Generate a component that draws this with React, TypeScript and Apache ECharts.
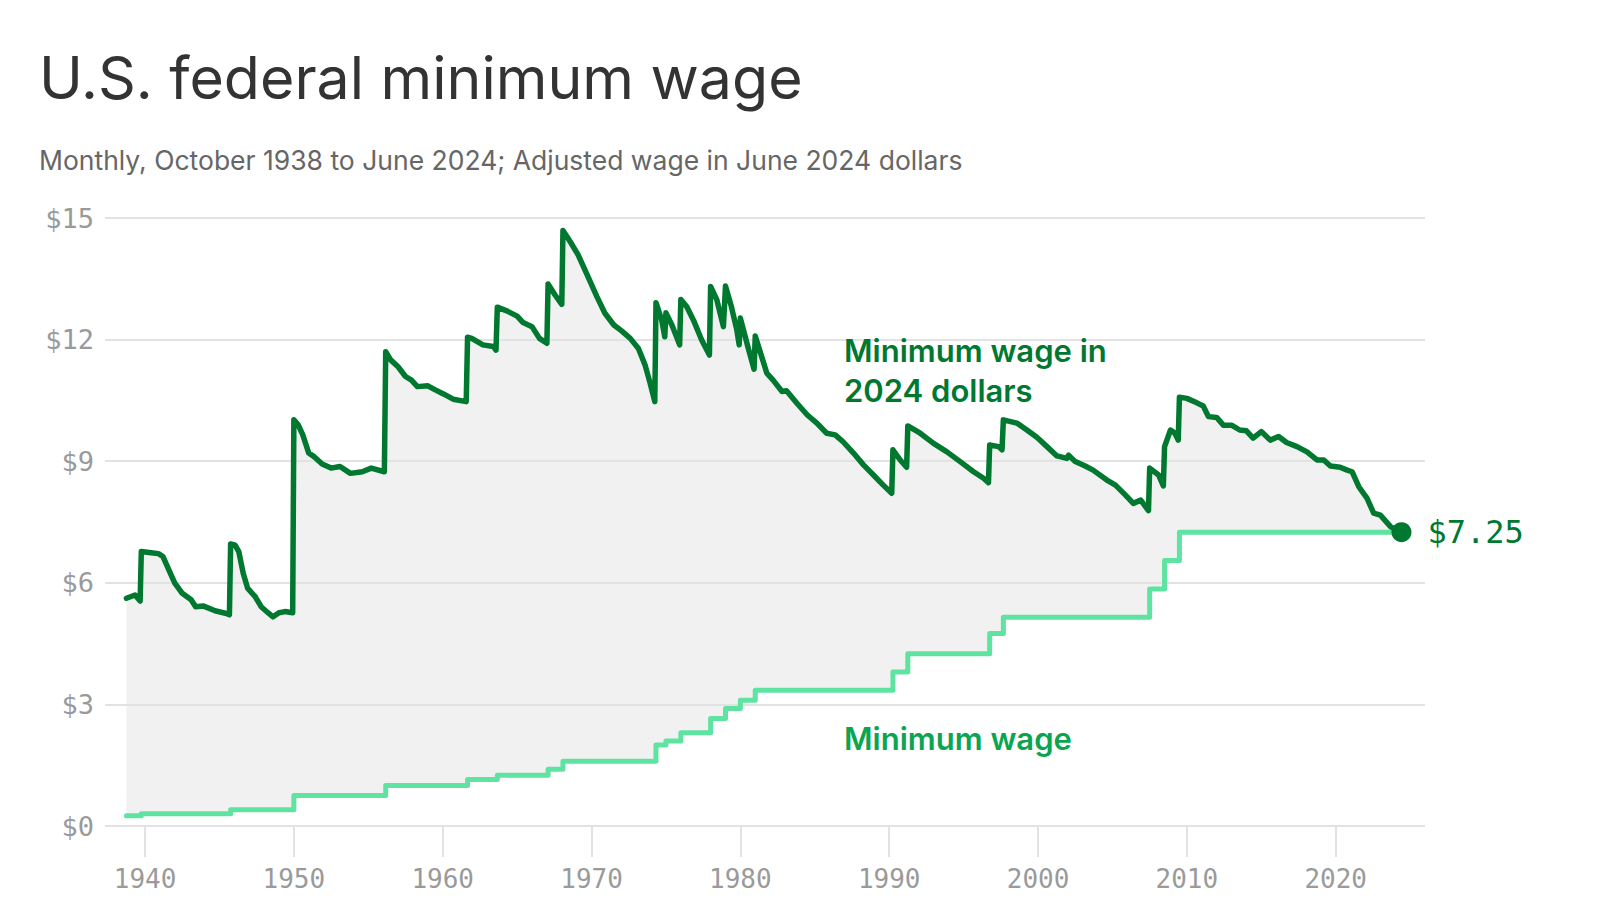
import React, { useEffect, useRef } from "react";
import * as echarts from "echarts";

const TITLE = "U.S. federal minimum wage";
const SUBTITLE = "Monthly, October 1938 to June 2024; Adjusted wage in June 2024 dollars";
const LABEL_REAL_1 = "Minimum wage in";
const LABEL_REAL_2 = "2024 dollars";
const LABEL_NOMINAL = "Minimum wage";

// Decade ticks on the x axis
const yearTicks = [1940, 1950, 1960, 1970, 1980, 1990, 2000, 2010, 2020];

// Nominal federal minimum wage: date it took effect (decimal year) and rate
const nominalDates = [
  1938.75, 1939.75, 1945.75, 1950.0, 1956.17, 1961.67, 1963.67, 1967.08, 1968.08,
  1974.33, 1975.0, 1976.0, 1978.0, 1979.0, 1980.0, 1981.0, 1990.25, 1991.25,
  1996.75, 1997.67, 2007.5, 2008.5, 2009.5, 2024.42,
];
const nominalRates = [
  0.25, 0.3, 0.4, 0.75, 1.0, 1.15, 1.25, 1.4, 1.6,
  2.0, 2.1, 2.3, 2.65, 2.9, 3.1, 3.35, 3.8, 4.25,
  4.75, 5.15, 5.85, 6.55, 7.25, 7.25,
];

// Minimum wage in June 2024 dollars
const realDates = [
  1938.75, 1939.33, 1939.67, 1939.75, 1940.4, 1940.9, 1941.2, 1941.6, 1942.0, 1942.5,
  1943.1, 1943.4, 1943.9, 1944.7, 1945.4, 1945.67, 1945.75, 1946.05, 1946.3, 1946.6,
  1946.9, 1947.4, 1947.8, 1948.3, 1948.6, 1949.0, 1949.4, 1949.92, 1950.0, 1950.3,
  1950.6, 1951.0, 1951.4, 1951.9, 1952.5, 1953.1, 1953.8, 1954.6, 1955.2, 1956.08,
  1956.17, 1956.5, 1957.0, 1957.5, 1957.9, 1958.3, 1959.0, 1959.5, 1960.05, 1960.7,
  1961.58, 1961.67, 1961.95, 1962.7, 1963.4, 1963.58, 1963.67, 1964.3, 1965.0, 1965.4,
  1966.0, 1966.5, 1967.0, 1967.08, 1967.55, 1968.0, 1968.08, 1968.56, 1969.1, 1969.7,
  1970.36, 1970.9, 1971.5, 1972.0, 1972.6, 1973.15, 1973.6, 1973.94, 1974.25, 1974.33,
  1974.72, 1974.92, 1975.0, 1975.4, 1975.92, 1976.0, 1976.4, 1976.85, 1977.4, 1977.92,
  1978.0, 1978.42, 1978.86, 1979.0, 1979.4, 1979.76, 1979.92, 1980.0, 1980.5, 1980.92,
  1981.0, 1981.5, 1981.78, 1982.2, 1982.8, 1983.1, 1983.8, 1984.5, 1985.14, 1985.8,
  1986.37, 1986.9, 1987.6, 1988.27, 1988.94, 1989.6, 1990.17, 1990.25, 1990.74, 1991.17,
  1991.25, 1992.08, 1992.98, 1993.88, 1994.77, 1995.67, 1996.34, 1996.67, 1996.75, 1997.35,
  1997.58, 1997.67, 1998.58, 1999.25, 1999.92, 2000.6, 2001.27, 2001.94, 2002.05, 2002.5,
  2003.17, 2003.7, 2004.6, 2005.2, 2005.86, 2006.4, 2006.9, 2007.42, 2007.5, 2008.1,
  2008.42, 2008.5, 2008.9, 2009.2, 2009.42, 2009.5, 2010.0, 2010.67, 2011.1, 2011.45,
  2012.0, 2012.45, 2013.0, 2013.55, 2014.0, 2014.45, 2015.0, 2015.6, 2016.16, 2016.7,
  2017.4, 2018.07, 2018.74, 2019.2, 2019.64, 2020.3, 2020.77, 2021.1, 2021.55, 2022.1,
  2022.55, 2023.0, 2023.7, 2024.42,
];
const realValues = [
  5.62, 5.7, 5.55, 6.77, 6.74, 6.72, 6.65, 6.32, 5.99, 5.74,
  5.58, 5.41, 5.43, 5.31, 5.25, 5.21, 6.96, 6.93, 6.77, 6.23,
  5.86, 5.66, 5.41, 5.25, 5.16, 5.26, 5.29, 5.26, 10.02, 9.89,
  9.65, 9.2, 9.1, 8.93, 8.83, 8.87, 8.7, 8.74, 8.83, 8.74,
  11.7, 11.5, 11.33, 11.09, 11.0, 10.84, 10.86, 10.76, 10.66, 10.53,
  10.47, 12.06, 12.03, 11.87, 11.83, 11.74, 12.8, 12.71, 12.58, 12.42,
  12.32, 12.03, 11.91, 13.37, 13.1, 12.87, 14.69, 14.42, 14.09, 13.6,
  13.06, 12.65, 12.36, 12.22, 12.03, 11.78, 11.37, 10.92, 10.47, 12.91,
  12.48, 12.07, 12.66, 12.36, 11.87, 12.99, 12.81, 12.48, 11.99, 11.62,
  13.31, 12.98, 12.32, 13.32, 12.81, 12.24, 11.87, 12.53, 11.83, 11.27,
  12.09, 11.5, 11.17, 11.0, 10.72, 10.74, 10.43, 10.14, 9.94, 9.69,
  9.65, 9.48, 9.2, 8.91, 8.66, 8.41, 8.21, 9.28, 9.03, 8.85,
  9.87, 9.69, 9.44, 9.23, 8.99, 8.74, 8.58, 8.47, 9.4, 9.36,
  9.28, 10.02, 9.94, 9.77, 9.59, 9.36, 9.13, 9.07, 9.15, 8.99,
  8.88, 8.78, 8.54, 8.41, 8.17, 7.96, 8.04, 7.78, 8.83, 8.66,
  8.39, 9.36, 9.77, 9.69, 9.52, 10.58, 10.55, 10.44, 10.36, 10.1,
  10.08, 9.89, 9.89, 9.77, 9.75, 9.57, 9.73, 9.52, 9.61, 9.46,
  9.36, 9.23, 9.03, 9.03, 8.88, 8.85, 8.78, 8.74, 8.37, 8.09,
  7.72, 7.67, 7.38, 7.25,
];

const DARK_GREEN = "#00782f";
const LIGHT_GREEN = "#5fe3a1";
const LABEL_GREEN = "#0aa550";
const MONO = "'DejaVu Sans Mono', 'Liberation Mono', monospace";
const SANS = "Inter, Roboto, 'Noto Sans', sans-serif";

export default function App() {
  const ref = useRef<HTMLDivElement>(null);

  useEffect(() => {
    document.body.style.margin = "0";
    if (!ref.current) return;
    const chart = echarts.init(ref.current, null, { renderer: "svg" });

    const realData = realDates.map((d, i) => [d, realValues[i]]);
    const nominalData = nominalDates.map((d, i) => [d, nominalRates[i]]);

    // vertices of the nominal step line (step at the date the new rate takes effect)
    const stepPts: number[][] = [];
    nominalData.forEach((p, i) => {
      if (i > 0) stepPts.push([p[0], nominalData[i - 1][1]]);
      stepPts.push(p);
    });

    const last = realData[realData.length - 1];

    const option: any = {
      animation: false,
      grid: { left: 105, right: 175, top: 218, bottom: 74, containLabel: false },
      xAxis: {
        type: "value",
        min: 1937.31,
        max: 2026.0,
        z: 2,
        axisLine: { show: false },
        splitLine: { show: false },
        axisTick: {
          show: true,
          customValues: yearTicks,
          length: 31,
          lineStyle: { color: "#e2e2e2", width: 2 },
        },
        axisLabel: {
          customValues: yearTicks,
          margin: 40,
          fontFamily: MONO,
          fontSize: 26,
          color: "#9a9a9a",
          formatter: (v: number) => String(v),
        },
      },
      yAxis: {
        type: "value",
        min: 0,
        max: 15,
        interval: 3,
        z: 2,
        axisLine: { show: false },
        axisTick: { show: false },
        splitLine: { lineStyle: { color: "#e2e2e2", width: 2 } },
        axisLabel: {
          margin: 11,
          fontFamily: MONO,
          fontSize: 27,
          color: "#9a9a9a",
          formatter: (v: number) => "$" + v,
        },
      },
      series: [
        {
          type: "custom",
          z: 1,
          silent: true,
          data: [0],
          renderItem: (params: any, api: any) => {
            const pts: number[][] = [];
            realData.forEach((p) => pts.push(api.coord(p)));
            for (let i = stepPts.length - 1; i >= 0; i--) pts.push(api.coord(stepPts[i]));
            return {
              type: "polygon",
              shape: { points: pts },
              style: { fill: "#f1f1f1", stroke: "none" },
            };
          },
        },
        {
          type: "line",
          z: 3,
          data: nominalData,
          step: "end",
          showSymbol: false,
          lineStyle: { color: LIGHT_GREEN, width: 5, join: "round", cap: "round" },
        },
        {
          type: "line",
          z: 4,
          data: realData,
          showSymbol: false,
          lineStyle: { color: DARK_GREEN, width: 5.5, join: "round", cap: "round" },
        },
        {
          type: "scatter",
          z: 5,
          data: [last],
          symbolSize: 20,
          itemStyle: { color: DARK_GREEN, opacity: 1 },
          label: {
            show: true,
            position: "right",
            distance: 16,
            fontFamily: MONO,
            fontSize: 32,
            color: DARK_GREEN,
            formatter: (p: any) => "$" + p.value[1].toFixed(2),
          },
        },
      ],
      graphic: [
        {
          type: "text",
          style: {
            text: TITLE,
            x: 39,
            y: 77,
            font: `400 59px ${SANS}`,
            fill: "#333333",
            verticalAlign: "middle",
          },
        },
        {
          type: "text",
          style: {
            text: SUBTITLE,
            x: 39,
            y: 160,
            font: `400 26.5px ${SANS}`,
            fill: "#666666",
            verticalAlign: "middle",
          },
        },
        {
          type: "text",
          z: 10,
          style: {
            text: LABEL_REAL_1,
            x: 844,
            y: 350,
            font: `600 31px ${SANS}`,
            fill: DARK_GREEN,
            verticalAlign: "middle",
          },
        },
        {
          type: "text",
          z: 10,
          style: {
            text: LABEL_REAL_2,
            x: 844,
            y: 390,
            font: `600 31px ${SANS}`,
            fill: DARK_GREEN,
            verticalAlign: "middle",
          },
        },
        {
          type: "text",
          z: 10,
          style: {
            text: LABEL_NOMINAL,
            x: 844,
            y: 738,
            font: `600 31px ${SANS}`,
            fill: LABEL_GREEN,
            verticalAlign: "middle",
          },
        },
      ],
    };

    chart.setOption(option);
    return () => chart.dispose();
  }, []);

  return <div ref={ref} style={{ width: 1600, height: 900 }} />;
}
